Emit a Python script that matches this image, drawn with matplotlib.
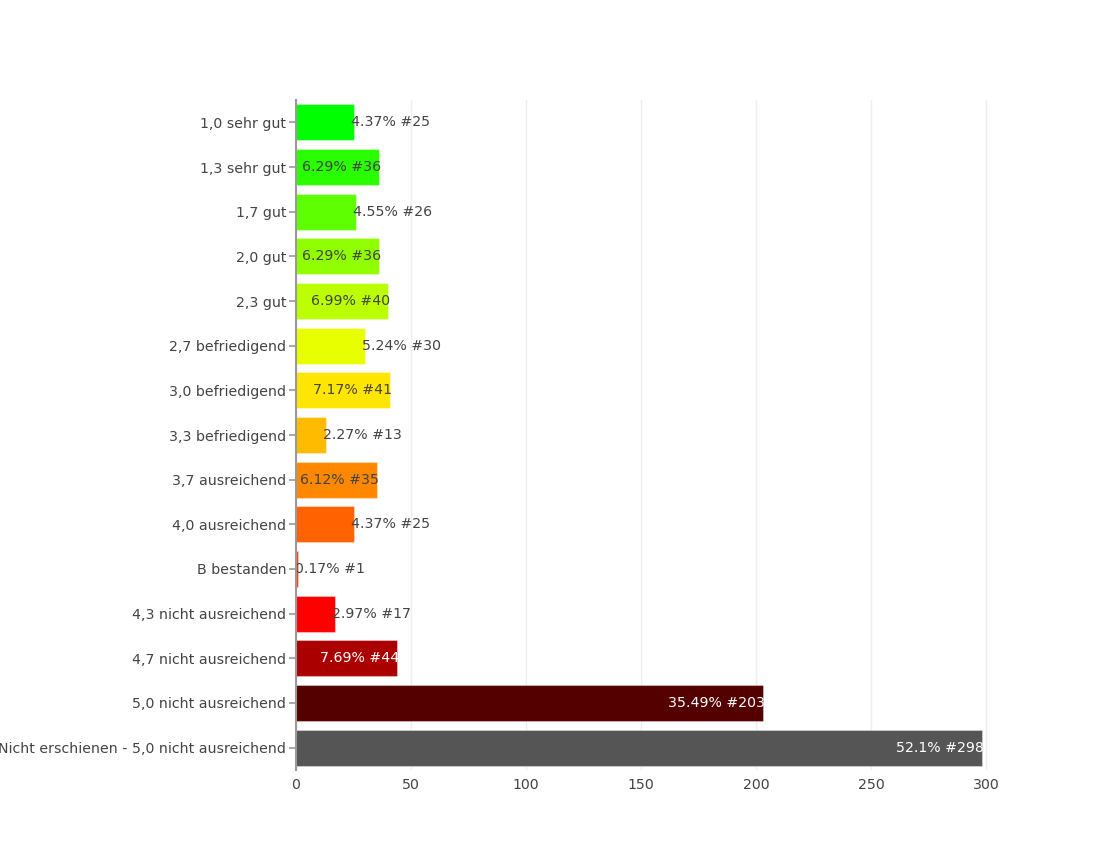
import matplotlib
matplotlib.use("Agg")
from matplotlib import pyplot as plt

# Daten
labels = ["1,0 sehr gut", "1,3 sehr gut", "1,7 gut", "2,0 gut", "2,3 gut",
          "2,7 befriedigend", "3,0 befriedigend", "3,3 befriedigend",
          "3,7 ausreichend", "4,0 ausreichend", "B bestanden",
          "4,3 nicht ausreichend", "4,7 nicht ausreichend",
          "5,0 nicht ausreichend", "Nicht erschienen - 5,0 nicht ausreichend"]
counts = [25, 36, 26, 36, 40, 30, 41, 13, 35, 25, 1, 17, 44, 203, 298]
percents = ["4.37%", "6.29%", "4.55%", "6.29%", "6.99%", "5.24%", "7.17%",
            "2.27%", "6.12%", "4.37%", "0.17%", "2.97%", "7.69%", "35.49%", "52.1%"]
colors = ["#00ff00", "#2aff00", "#5eff00", "#90ff00", "#bbff00", "#e8ff00",
          "#ffe600", "#ffbb00", "#ff8800", "#ff6200", "#ff3d00", "#ff0000",
          "#aa0000", "#550000", "#555555"]

plt.rcParams["font.family"] = ["DejaVu Sans"]
txt_col = "#444444"
fs = 10.2

fig = plt.figure(figsize=(10.98, 8.5), dpi=100)
ax = fig.add_axes([296 / 1098, 80 / 850, (1018 - 296) / 1098, 670 / 850])

pos = list(range(len(labels)))
ax.barh(pos, counts, height=0.8, color=colors, edgecolor=(1, 1, 1, 0.35), linewidth=0.8, zorder=2)

px = 313.7 / (1018 - 296)  # Dateneinheiten pro Pixel
for i, (c, p) in enumerate(zip(counts, percents)):
    s = f"{p} #{c}"
    if c >= 35:
        col = "white" if colors[i] in ("#aa0000", "#550000", "#555555") else txt_col
        ax.text(c + 2 * px, i, s, ha="right", va="center", fontsize=fs, color=col,
                zorder=3, clip_on=True)
    else:
        ax.text(c - 3 * px, i, s, ha="left", va="center", fontsize=fs, color=txt_col, zorder=3)

ax.set_xlim(0, 313.7)
ax.set_ylim(len(labels) - 0.5, -0.5)
ax.set_yticks(pos)
ax.set_yticklabels(labels, fontsize=fs, color=txt_col)
ax.set_xticks([0, 50, 100, 150, 200, 250, 300])
ax.tick_params(axis="x", length=0, labelsize=fs, labelcolor=txt_col, pad=6)
ax.tick_params(axis="y", length=5, color="#999999", width=1.2, pad=2)
ax.grid(axis="x", color="#eeeeee", linewidth=1, zorder=0)
for sp in ["top", "right", "bottom"]:
    ax.spines[sp].set_visible(False)
ax.spines["left"].set_color("#999999")
ax.spines["left"].set_linewidth(1.5)
ax.spines["left"].set_zorder(4)

plt.savefig("out.png", dpi=100)
